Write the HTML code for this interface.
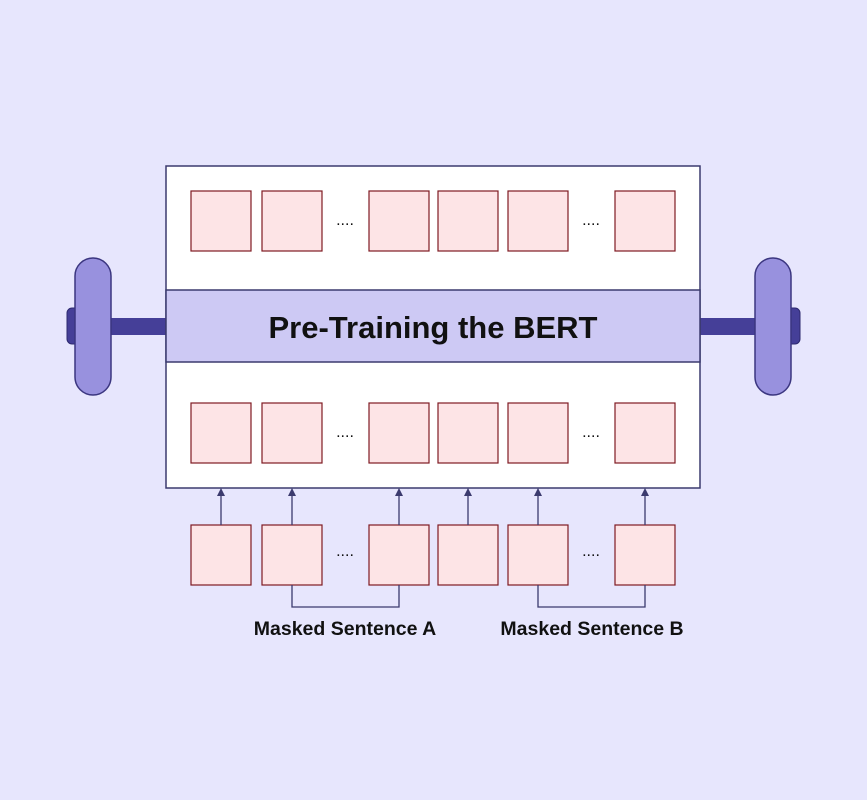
<!DOCTYPE html>
<html><head><style>
body{margin:0;background:#e7e6fd;}
svg{display:block}
text{font-family:"Liberation Sans",sans-serif;font-weight:bold;fill:#111;}
</style></head><body>
<svg width="867" height="800" viewBox="0 0 867 800">
<rect width="867" height="800" fill="#e7e6fd"/>
<rect x="67" y="308" width="14" height="36" rx="5" fill="#453f98" stroke="#2e2a70" stroke-width="1"/>
<rect x="105" y="318" width="63" height="17" fill="#453f98"/>
<rect x="75" y="258" width="36" height="137" rx="18" fill="#9891de" stroke="#3b3680" stroke-width="1.5"/>
<rect x="786" y="308" width="14" height="36" rx="5" fill="#453f98" stroke="#2e2a70" stroke-width="1"/>
<rect x="699" y="318" width="62" height="17" fill="#453f98"/>
<rect x="755" y="258" width="36" height="137" rx="18" fill="#9891de" stroke="#3b3680" stroke-width="1.5"/>
<rect x="166" y="166" width="534" height="322" fill="#fff" stroke="#3b3a6e" stroke-width="1.5"/>
<rect x="166" y="290" width="534" height="72" fill="#cdc9f4" stroke="#3b3a6e" stroke-width="1.5"/>
<text x="433" y="338" font-size="31" text-anchor="middle">Pre-Training the BERT</text>
<g fill="#fde4e6" stroke="#7f1a22" stroke-width="1.2">
<rect x="191" y="191" width="60" height="60"/><rect x="262" y="191" width="60" height="60"/>
<rect x="369" y="191" width="60" height="60"/><rect x="438" y="191" width="60" height="60"/>
<rect x="508" y="191" width="60" height="60"/><rect x="615" y="191" width="60" height="60"/>
<rect x="191" y="403" width="60" height="60"/><rect x="262" y="403" width="60" height="60"/>
<rect x="369" y="403" width="60" height="60"/><rect x="438" y="403" width="60" height="60"/>
<rect x="508" y="403" width="60" height="60"/><rect x="615" y="403" width="60" height="60"/>
<rect x="191" y="525" width="60" height="60"/><rect x="262" y="525" width="60" height="60"/>
<rect x="369" y="525" width="60" height="60"/><rect x="438" y="525" width="60" height="60"/>
<rect x="508" y="525" width="60" height="60"/><rect x="615" y="525" width="60" height="60"/>
</g>
<g font-size="16" text-anchor="middle">
<text x="345" y="225" style="font-weight:normal">....</text><text x="591" y="225" style="font-weight:normal">....</text>
<text x="345" y="437" style="font-weight:normal">....</text><text x="591" y="437" style="font-weight:normal">....</text>
<text x="345" y="556" style="font-weight:normal">....</text><text x="591" y="556" style="font-weight:normal">....</text>
</g>
<g stroke="#3b3a6e" stroke-width="1.3" fill="none">
<line x1="221" y1="525" x2="221" y2="494"/><line x1="292" y1="525" x2="292" y2="494"/>
<line x1="399" y1="525" x2="399" y2="494"/><line x1="468" y1="525" x2="468" y2="494"/>
<line x1="538" y1="525" x2="538" y2="494"/><line x1="645" y1="525" x2="645" y2="494"/>
<polyline points="292,585 292,607 399,607 399,585"/>
<polyline points="538,585 538,607 645,607 645,585"/>
</g>
<g fill="#3b3a6e">
<polygon points="221,488 217,496 225,496"/><polygon points="292,488 288,496 296,496"/>
<polygon points="399,488 395,496 403,496"/><polygon points="468,488 464,496 472,496"/>
<polygon points="538,488 534,496 542,496"/><polygon points="645,488 641,496 649,496"/>
</g>
<text x="345" y="635" font-size="19.5" text-anchor="middle">Masked Sentence A</text>
<text x="592" y="635" font-size="19.5" text-anchor="middle">Masked Sentence B</text>
</svg>
</body></html>
